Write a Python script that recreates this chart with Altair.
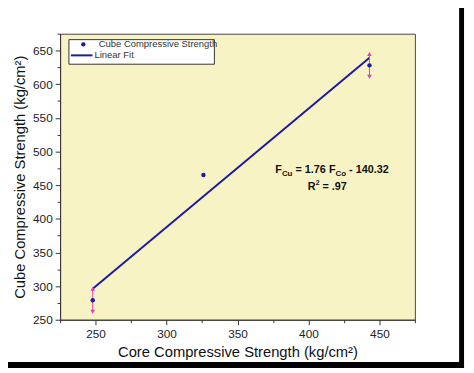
import altair as alt
import pandas as pd

# ---- data ----
core = [248, 326, 443]          # Core compressive strength (kg/cm2)
cube = [279, 465, 628]          # Cube compressive strength (kg/cm2)
err = [17, 0, 17]               # error bar half-heights
fit_slope = [1.76]
fit_intercept = [-140.32]
fit_range = [248, 443]
x_ticks = [225, 250, 275, 300, 325, 350, 375, 400, 425, 450, 475]
y_ticks = [250, 275, 300, 325, 350, 375, 400, 425, 450, 475, 500, 525, 550, 575, 600, 625, 650, 675]

S_PT = "Cube Compressive Strength"
S_FIT = "Linear Fit"

BLUE = "#1c1ca0"
PINK = "#e040b8"
FONT = "Liberation Sans"

pts = pd.DataFrame({
    "core": core,
    "cube": cube,
    "lo": [c - e for c, e in zip(cube, err)],
    "hi": [c + e for c, e in zip(cube, err)],
    "err": err,
    "series": S_PT,
})
bars = pts[pts["err"] > 0]
fit = pd.DataFrame({
    "core": fit_range,
    "cube": [fit_slope[0] * x + fit_intercept[0] for x in fit_range],
    "series": S_FIT,
})
one = pd.DataFrame({"a": [0]})

xs = alt.Scale(domain=[225, 475], nice=False, zero=False)
ys = alt.Scale(domain=[250, 675], nice=False, zero=False)

major = "datum.value % 50 == 0"


def make_axis(values, title, lpad, tpad):
    return alt.Axis(
        values=values, labelExpr=f"{major} ? datum.label : ''", labelOverlap=False,
        tickSize={"condition": {"test": major, "value": 5}, "value": 3},
        grid=False, domainColor="#333", tickColor="#333", domainWidth=1,
        labelFont=FONT, labelFontSize=12, labelColor="#222", labelPadding=lpad, labelFlush=False,
        title=title, titleFont=FONT, titleFontSize=15,
        titleFontWeight="normal", titleColor="#111", titlePadding=tpad,
    )


x_axis = make_axis(x_ticks, "Core Compressive Strength (kg/cm²)", 4, 5)
y_axis = make_axis(y_ticks, "Cube Compressive Strength (kg/cm²)", 3, 5)


def X(f):
    return alt.X(f, type="quantitative", scale=xs, axis=x_axis)


def Y(f):
    return alt.Y(f, type="quantitative", scale=ys, axis=y_axis)


# decorations: frame shadow and legend box
shadow_r = alt.Chart(one).mark_rect(color="#000").encode(
    x=alt.value(406), x2=alt.value(411), y=alt.value(-27), y2=alt.value(340))
shadow_b = alt.Chart(one).mark_rect(color="#000").encode(
    x=alt.value(-53), x2=alt.value(411), y=alt.value(334), y2=alt.value(340))
legend_box = alt.Chart(one).mark_rect(fill="white", stroke="#333", strokeWidth=1).encode(
    x=alt.value(9), x2=alt.value(157), y=alt.value(6), y2=alt.value(31))

fit_line = alt.Chart(fit).mark_line(strokeWidth=2).encode(
    x=X("core"), y=Y("cube"),
    color=alt.Color("series:N", scale=alt.Scale(domain=[S_FIT], range=[BLUE]),
                    legend=alt.Legend(orient="none", legendX=10, legendY=10, title=None,
                                      symbolType="stroke", symbolSize=484, symbolStrokeWidth=2,
                                      labelFont=FONT, labelFontSize=9.6, labelColor="#333",
                                      labelOffset=1, padding=0)),
)

err_rule = alt.Chart(bars).mark_rule(color=PINK, strokeWidth=1).encode(
    x=X("core"), y=Y("lo"), y2="hi:Q")
err_up = alt.Chart(bars).mark_point(shape="triangle-up", filled=True, color=PINK, size=22, opacity=1).encode(
    x=X("core"), y=Y("hi"))
err_dn = alt.Chart(bars).mark_point(shape="triangle-down", filled=True, color=PINK, size=22, opacity=1).encode(
    x=X("core"), y=Y("lo"))

points = alt.Chart(pts).mark_point(filled=True, size=20, opacity=1).encode(
    x=X("core"), y=Y("cube"),
    color=alt.Color("series:N", scale=alt.Scale(domain=[S_PT], range=[BLUE]),
                    legend=alt.Legend(orient="none", legendX=18.8, legendY=6, title=None,
                                      symbolType="circle", symbolSize=20,
                                      labelFont=FONT, labelFontSize=9.6, labelColor="#333",
                                      labelOffset=11, padding=0)),
)


def txt(s, x, y, size):
    return alt.Chart(one).mark_text(
        text=s, align="left", baseline="alphabetic", font=FONT, fontSize=size,
        fontWeight="bold", color="#111").encode(x=alt.value(x), y=alt.value(y))


annot = [
    txt("F", 219, 142, 11),
    txt("Cu", 225.7, 145, 8),
    txt("= 1.76", 239.5, 142, 11),
    txt("F", 273.5, 142, 11),
    txt("Co", 280.2, 145, 8),
    txt("- 140.32", 294, 142, 11),
    txt("R", 252, 159, 11),
    txt("2", 260, 154, 7),
    txt("= .97", 267, 159, 11),
]

chart = alt.layer(
    shadow_r, shadow_b, fit_line, err_rule, err_up, err_dn, points, legend_box, *annot
).resolve_scale(color="independent").properties(
    width=361, height=291,
    autosize=alt.AutoSizeParams(type="none"),
    padding={"left": 53, "top": 23, "right": 52, "bottom": 51},
    background="white",
).configure_view(fill="#F8F3C4", stroke="#444", strokeWidth=1)

chart.save("out.html", embed_options={"renderer": "svg", "actions": False})
